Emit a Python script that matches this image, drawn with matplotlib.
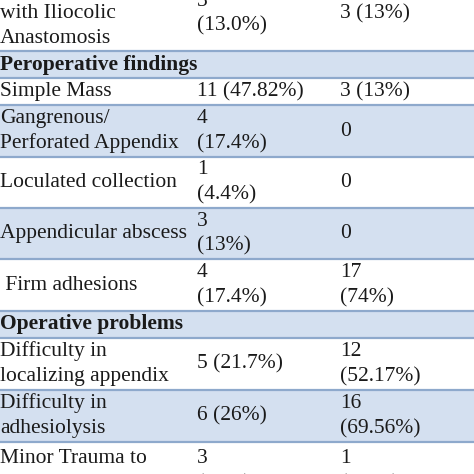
import matplotlib
matplotlib.use("Agg")
import matplotlib.pyplot as plt
from matplotlib.patches import Rectangle

# ── Данные таблицы ─────────────────────────────────────────────────────────────
labels = [
    "Resection\nwith Iliocolic\nAnastomosis",
    "Peroperative findings",
    "Simple Mass",
    "Gangrenous/\nPerforated Appendix",
    "Loculated collection",
    "Appendicular abscess",
    " Firm adhesions",
    "Operative problems",
    "Difficulty in\nlocalizing appendix",
    "Difficulty in\nadhesiolysis",
    "Minor Trauma to\nBowel",
]
group_a = ["3\n(13.0%)", "", "11 (47.82%)", "4\n(17.4%)", "1\n(4.4%)", "3\n(13%)",
           "4\n(17.4%)", "", "5 (21.7%)", "6 (26%)", "3\n(13%)"]
group_b = ["3 (13%)", "", "3 (13%)", "0", "0", "0", "17\n(74%)", "",
           "12\n(52.17%)", "16\n(69.56%)", "1\n(4.3%)"]
is_header = [False, True, False, False, False, False, False, True, False, False, False]

# границы строк (пиксели сверху)
row_edges = [-24, 51, 78, 105, 157, 208, 259, 311, 338, 390, 442, 500]
col_x = [0, 197, 340]

W = H = 474
fig = plt.figure(figsize=(4.74, 4.74), dpi=100)
ax = fig.add_axes([0, 0, 1, 1])
ax.set_xlim(0, W); ax.set_ylim(H, 0); ax.axis("off")

blue = "#d4e0f0"
line_c = "#8ea9cc"
font = dict(family="Liberation Serif", fontsize=15.5, color="#1a1a1a")
pitch = 25

for i, lab in enumerate(labels):
    top, bot = row_edges[i], row_edges[i + 1]
    fill = blue if (is_header[i] or i % 2 == 1) else "white"
    ax.add_patch(Rectangle((0, top), W, bot - top, color=fill, zorder=0))
    ax.axhline(top, color=line_c, lw=1.6, zorder=1)
    cy = (top + bot) / 2
    for x, txt in zip(col_x, [lab, group_a[i], group_b[i]]):
        if not txt:
            continue
        lines = txt.split("\n")
        n = len(lines)
        for k, ln in enumerate(lines):
            y = cy + (k - (n - 1) / 2) * pitch
            ax.text(x, y, ln, va="center", ha="left",
                    fontweight="bold" if is_header[i] else "normal", **font)

fig.savefig("out.png", dpi=100)
